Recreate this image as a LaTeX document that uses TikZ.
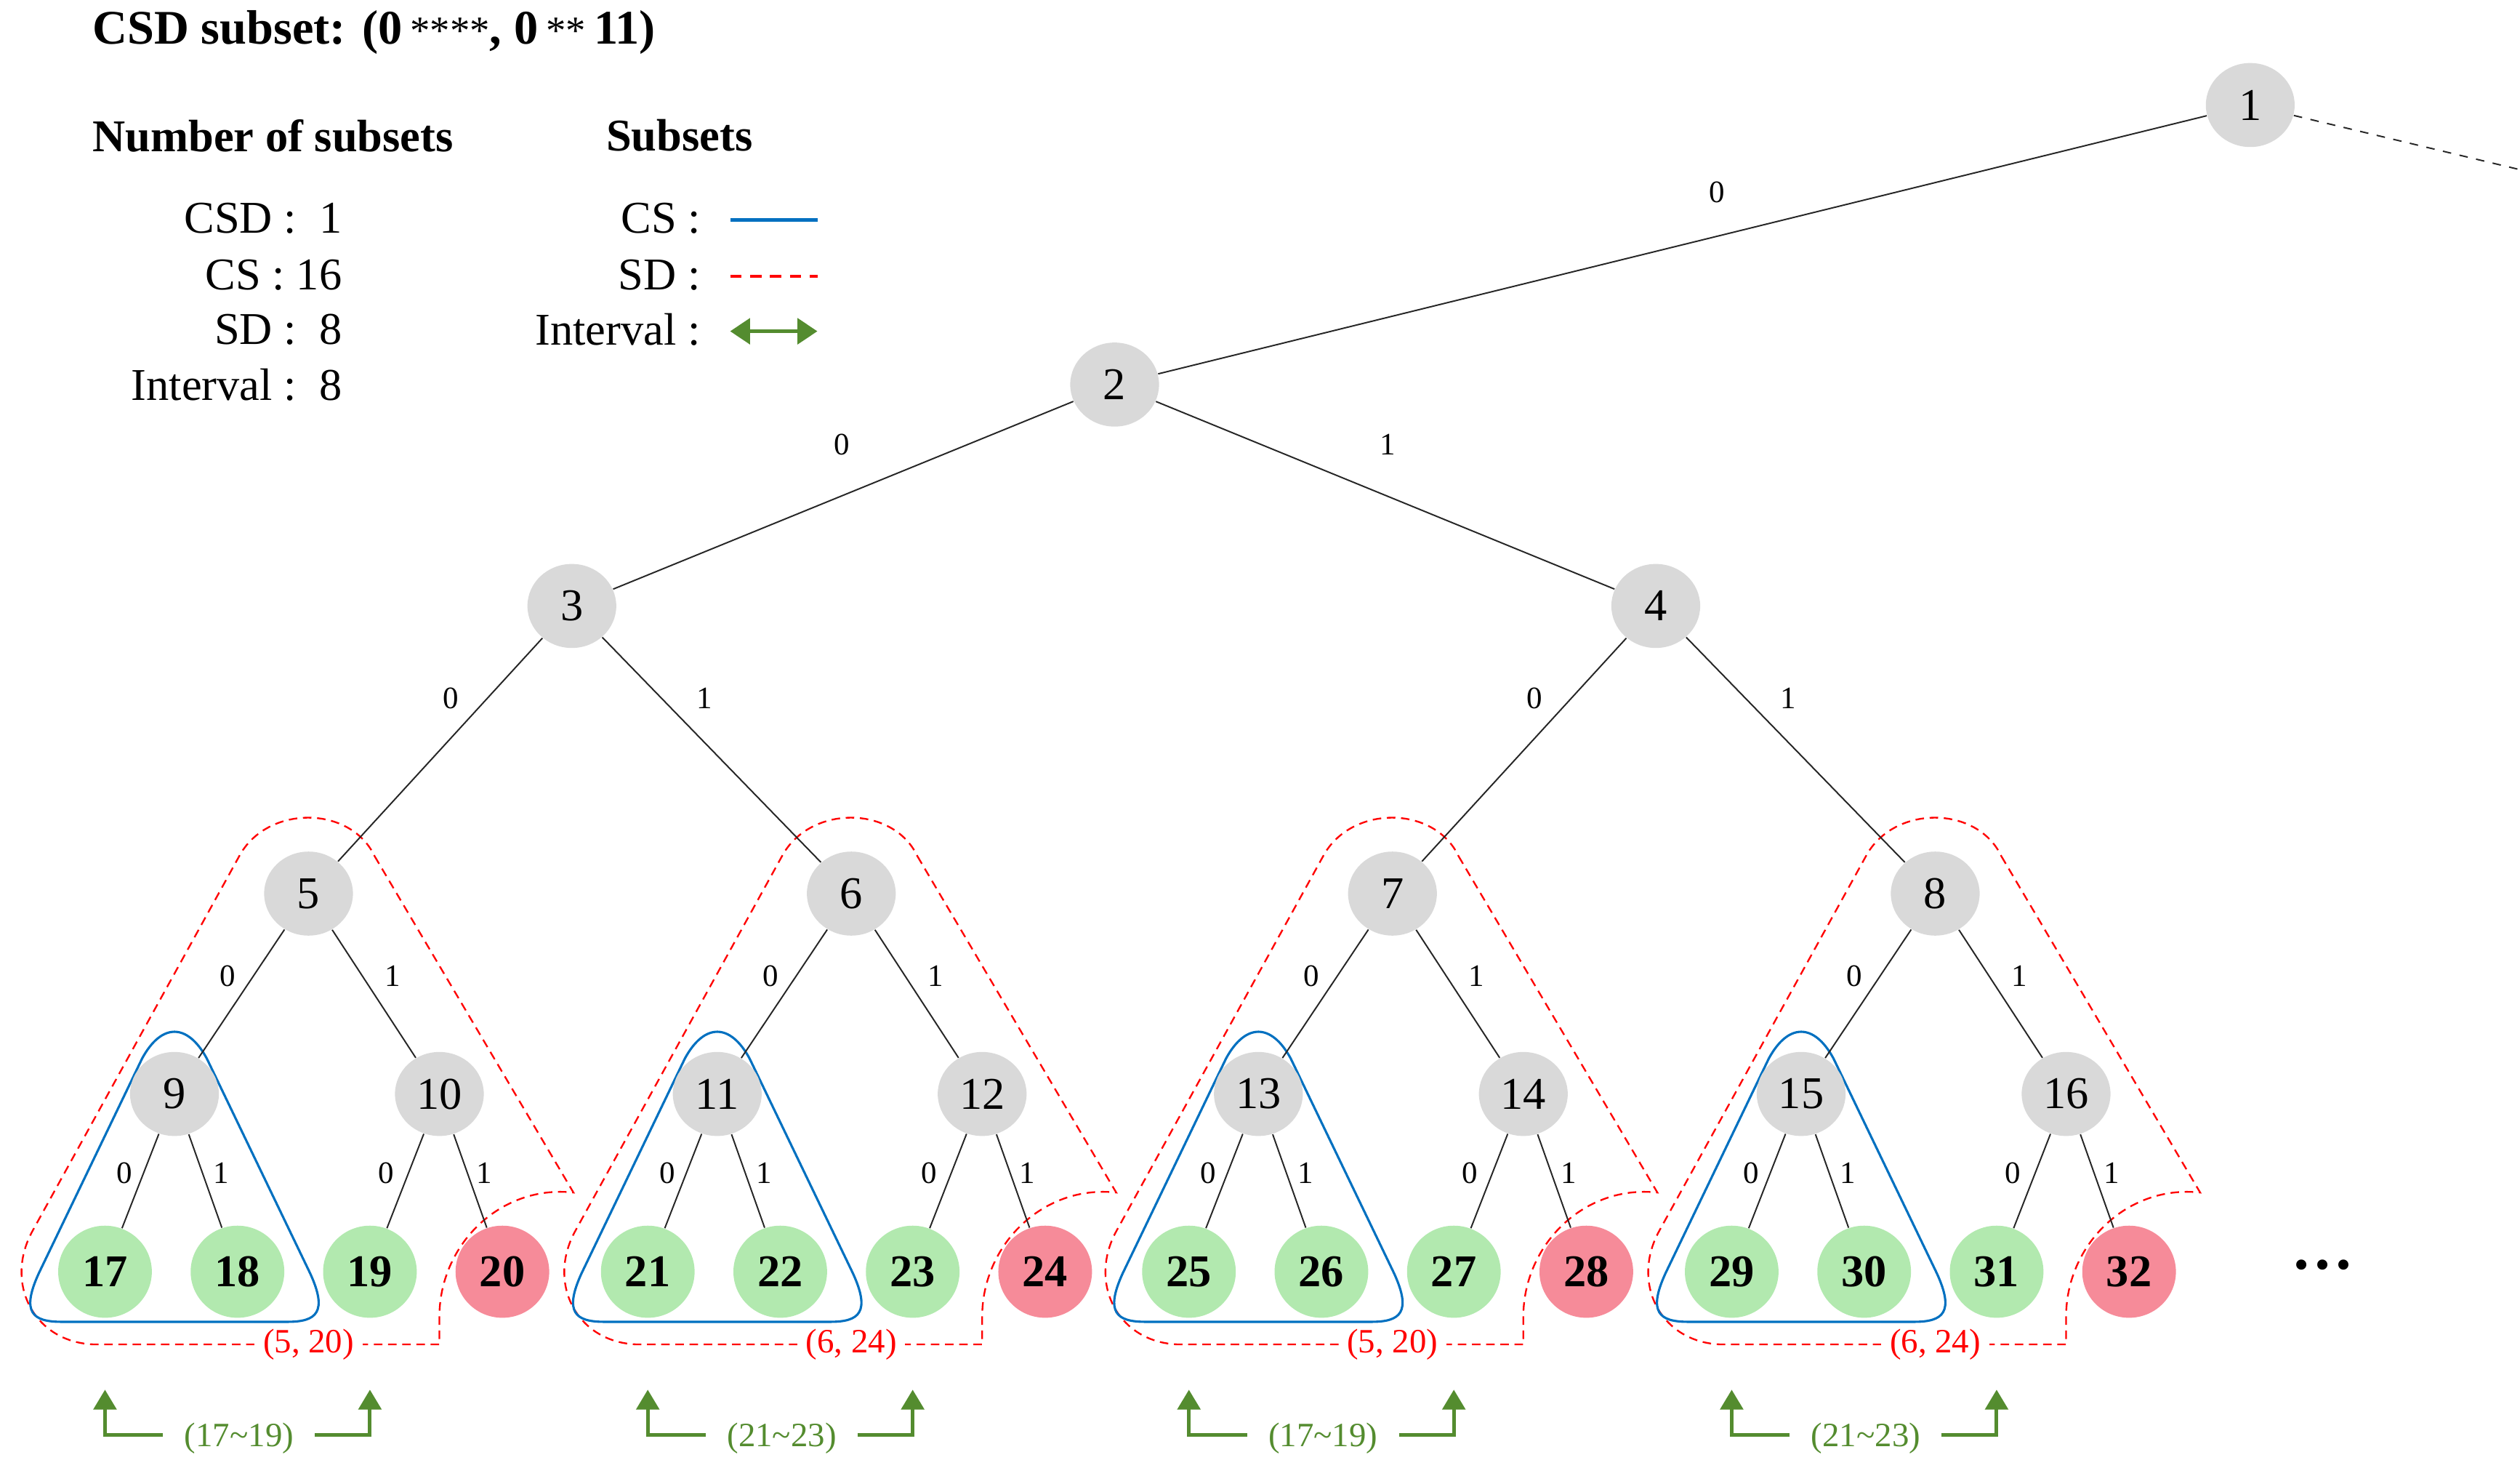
\documentclass[tikz,border=0pt]{standalone}
\usepackage{fontspec}
\setmainfont{Liberation Serif}
\usetikzlibrary{arrows.meta,shapes.geometric}
\definecolor{gnode}{RGB}{217,217,217}
\definecolor{lgreen}{RGB}{178,233,175}
\definecolor{lred}{RGB}{246,139,153}
\definecolor{cblue}{RGB}{0,112,192}
\definecolor{cgreen}{RGB}{84,140,47}
\begin{document}
\begin{tikzpicture}[x=0.02cm,y=-0.02cm,
  gn/.style={ellipse,fill=gnode,minimum width=1.1cm,minimum height=1.04cm,inner sep=0pt,font=\fontsize{16}{16}\selectfont},
  ln/.style={ellipse,minimum width=1.16cm,minimum height=1.14cm,inner sep=0pt,font=\fontsize{16}{16}\selectfont\bfseries},
  gl/.style={ln,fill=lgreen}, rl/.style={ln,fill=lred},
  ed/.style={draw=black!85,line width=0.5pt},
  el/.style={font=\fontsize{11}{11}\selectfont,inner sep=0pt},
  sd/.style={draw=red,dashed,line width=0.6pt,dash pattern=on 3pt off 2pt},
  cs/.style={draw=cblue,line width=0.8pt},
  iv/.style={draw=cgreen,line width=1.3pt},
  lt/.style={font=\fontsize{16}{16}\selectfont,inner sep=0pt},
  ]
\useasboundingbox (0,0) rectangle (1560,903.5);
% legend
\node[anchor=west,lt,font=\fontsize{17}{17}\selectfont\bfseries] (title) at (57,20) {CSD subset: (0\,{\mdseries\fontsize{14}{14}\selectfont ****}, 0\,{\mdseries\fontsize{14}{14}\selectfont **}\,11)};
\node[anchor=west,lt,font=\fontsize{16}{16}\selectfont\bfseries] (nos) at (57,84) {Number of subsets};
\node[anchor=west,lt,font=\fontsize{16}{16}\selectfont\bfseries] (sub) at (375,84) {Subsets};
\node[anchor=east,lt] (a1) at (212,135) {CSD :\ \ 1};
\node[anchor=east,lt] (a2) at (212,170) {CS : 16};
\node[anchor=east,lt] (a3) at (212,204) {SD :\ \ 8};
\node[anchor=east,lt] (a4) at (212,238) {Interval :\ \ 8};
\node[anchor=east,lt] (b1) at (434,135) {CS :};
\node[anchor=east,lt] (b2) at (434,170) {SD :};
\node[anchor=east,lt] (b3) at (434,204) {Interval :};
\coordinate (c1a) at (452,136); \coordinate (c1b) at (506,136);
\coordinate (c2a) at (452,171); \coordinate (c2b) at (506,171);
\coordinate (c3a) at (452,205); \coordinate (c3b) at (506,205);
\draw[cs,line width=1.2pt] (c1a) -- (c1b);
\draw[red,line width=1.2pt,dash pattern=on 4pt off 3pt] (c2a) -- (c2b);
\draw[iv,{Triangle[length=7pt,width=9pt]}-{Triangle[length=7pt,width=9pt]}] (c3a) -- (c3b);
% top tree
\node[gn] (n1) at (1393,65) {1};
\node[gn] (n2) at (690,238) {2};
\node[gn] (n3) at (354,375) {3};
\node[gn] (n4) at (1025,375) {4};
\coordinate (r1) at (1560,105);
\draw[ed,dashed] (n1) -- (r1);
\draw[ed] (n1) -- (n2);
\draw[ed] (n2) -- (n3); \draw[ed] (n2) -- (n4);
\node[el] (l12) at (1063,119) {0};
\node[el] (l23) at (521,275) {0};
\node[el] (l24) at (859,275) {1};
\node[el] (l35) at (279,432) {0};
\node[el] (l36) at (436,432) {1};
\node[el] (l47) at (950,432) {0};
\node[el] (l48) at (1107,432) {1};
\foreach \i/\o/\lab/\iv in {0/0/{(5, 20)}/{(17\textasciitilde19)},1/336/{(6, 24)}/{(21\textasciitilde23)},2/671/{(5, 20)}/{(17\textasciitilde19)},3/1007/{(6, 24)}/{(21\textasciitilde23)}}{
  \pgfmathtruncatemacro\r{5+\i}
  \pgfmathtruncatemacro\ca{9+2*\i}
  \pgfmathtruncatemacro\cb{10+2*\i}
  \pgfmathtruncatemacro\la{17+4*\i}
  \pgfmathtruncatemacro\lb{18+4*\i}
  \pgfmathtruncatemacro\lc{19+4*\i}
  \pgfmathtruncatemacro\ld{20+4*\i}
  \begin{scope}[xshift=\o*0.02cm]
  % SD outline
  \draw[sd] (232,530) -- (355,738) .. controls (310,733) and (272,770) .. (272,815) -- (272,832) -- (60,832)
     .. controls (22,832) and (2,795) .. (20,762) -- (148,530) .. controls (165,498) and (217,498) .. (232,530) -- cycle;
  \node[fill=white,text=red,font=\fontsize{12}{12}\selectfont,inner sep=3pt] (sdl\i) at (191,832) {\lab};
  % CS outline
  \draw[cs] (88,655) .. controls (100,633) and (116,633) .. (128,655) -- (192,788)
     .. controls (203,812) and (196,818) .. (178,818) -- (38,818)
     .. controls (20,818) and (13,812) .. (24,788) -- cycle;
  \node[gn] (n\r) at (191,553) {\r};
  \node[gn] (n\ca) at (108,677) {\ca};
  \node[gn] (n\cb) at (272,677) {\cb};
  \node[gl] (n\la) at (65,787) {\la};
  \node[gl] (n\lb) at (147,787) {\lb};
  \node[gl] (n\lc) at (229,787) {\lc};
  \node[rl] (n\ld) at (311,787) {\ld};
  \draw[ed] (n\r) -- (n\ca); \draw[ed] (n\r) -- (n\cb);
  \draw[ed] (n\ca) -- (n\la); \draw[ed] (n\ca) -- (n\lb);
  \draw[ed] (n\cb) -- (n\lc); \draw[ed] (n\cb) -- (n\ld);
  \node[el] (e1\i) at (141,604) {0}; \node[el] (e2\i) at (243,604) {1};
  \node[el] (e3\i) at (77,726) {0}; \node[el] (e4\i) at (137,726) {1};
  \node[el] (e5\i) at (239,726) {0}; \node[el] (e6\i) at (300,726) {1};
  % interval arrows
  \node[text=cgreen,font=\fontsize{12}{12}\selectfont,inner sep=1pt] (ivl\i) at (148,890) {\iv};
  \coordinate (ga\i) at (65,860); \coordinate (gb\i) at (229,860);
  \draw[iv,-{Triangle[length=7pt,width=8pt]}] (101,888) -| (ga\i);
  \draw[iv,-{Triangle[length=7pt,width=8pt]}] (195,888) -| (gb\i);
  \end{scope}
}
\draw[ed] (n3) -- (n5); \draw[ed] (n3) -- (n6);
\draw[ed] (n4) -- (n7); \draw[ed] (n4) -- (n8);
\node[font=\fontsize{22}{22}\selectfont\bfseries,inner sep=0pt] (dots) at (1438,783) {…};
\end{tikzpicture}
\end{document}
